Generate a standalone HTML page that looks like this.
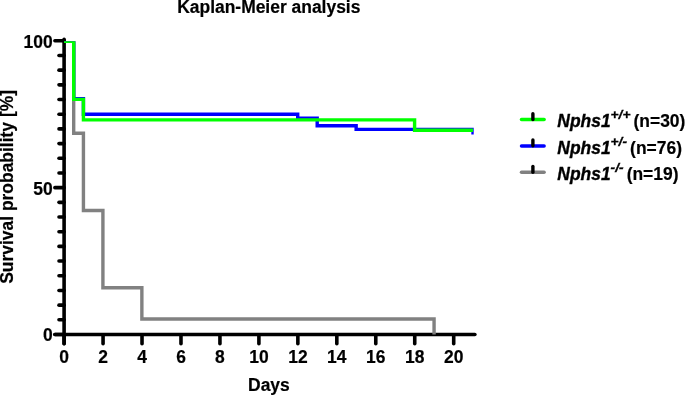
<!DOCTYPE html>
<html><head><meta charset="utf-8"><title>Kaplan-Meier analysis</title>
<style>
html,body{margin:0;padding:0;background:#fff;}
body{width:685px;height:395px;overflow:hidden;}
svg{display:block;}
text{font-family:"Liberation Sans",Arial,Helvetica,sans-serif;font-weight:bold;fill:#000;stroke:#000;stroke-width:0.2px;}
</style></head><body>
<svg width="685" height="395" viewBox="0 0 685 395">
<rect width="685" height="395" fill="#fff"/>
<text x="268.8" y="12.9" font-size="17.45" text-anchor="middle">Kaplan-Meier analysis</text>
<text transform="translate(13.3,186.9) rotate(-90)" font-size="17.45" text-anchor="middle">Survival probability [%]</text>
<text x="268.9" y="390.95" font-size="17.45" text-anchor="middle">Days</text>
<defs><clipPath id="pc"><rect x="64" y="41.15" width="409.7" height="300"/></clipPath></defs>
<g stroke="#000" stroke-width="3.6" stroke-linecap="round" fill="none">
<path d="M64.1 39.3V343.65"/>
<path d="M54.9 334.5H474.9"/>
<path d="M54.9 334.50H64.1"/>
<path d="M59 319.81H64.1"/>
<path d="M59 305.13H64.1"/>
<path d="M59 290.44H64.1"/>
<path d="M59 275.76H64.1"/>
<path d="M59 261.07H64.1"/>
<path d="M59 246.39H64.1"/>
<path d="M59 231.70H64.1"/>
<path d="M59 217.02H64.1"/>
<path d="M59 202.34H64.1"/>
<path d="M54.9 187.65H64.1"/>
<path d="M59 172.97H64.1"/>
<path d="M59 158.28H64.1"/>
<path d="M59 143.59H64.1"/>
<path d="M59 128.91H64.1"/>
<path d="M59 114.22H64.1"/>
<path d="M59 99.54H64.1"/>
<path d="M59 84.85H64.1"/>
<path d="M59 70.17H64.1"/>
<path d="M59 55.49H64.1"/>
<path d="M54.9 40.80H64.1"/>
<path d="M64.10 335.5V343.65"/>
<path d="M103.06 335.5V343.65"/>
<path d="M142.02 335.5V343.65"/>
<path d="M180.98 335.5V343.65"/>
<path d="M219.94 335.5V343.65"/>
<path d="M258.90 335.5V343.65"/>
<path d="M297.86 335.5V343.65"/>
<path d="M336.82 335.5V343.65"/>
<path d="M375.78 335.5V343.65"/>
<path d="M414.74 335.5V343.65"/>
<path d="M453.70 335.5V343.65"/>
</g>

<text x="52.6" y="48.40" font-size="17.45" text-anchor="end">100</text>

<text x="52.6" y="194.95" font-size="17.45" text-anchor="end">50</text>

<text x="52.6" y="341.35" font-size="17.45" text-anchor="end">0</text>

<text x="64.1" y="363.4" font-size="17.45" text-anchor="middle">0</text>

<text x="103.1" y="363.4" font-size="17.45" text-anchor="middle">2</text>

<text x="142.0" y="363.4" font-size="17.45" text-anchor="middle">4</text>

<text x="181.0" y="363.4" font-size="17.45" text-anchor="middle">6</text>

<text x="219.9" y="363.4" font-size="17.45" text-anchor="middle">8</text>

<text x="258.9" y="363.4" font-size="17.45" text-anchor="middle">10</text>

<text x="297.9" y="363.4" font-size="17.45" text-anchor="middle">12</text>

<text x="336.8" y="363.4" font-size="17.45" text-anchor="middle">14</text>

<text x="375.8" y="363.4" font-size="17.45" text-anchor="middle">16</text>

<text x="414.7" y="363.4" font-size="17.45" text-anchor="middle">18</text>

<text x="453.7" y="363.4" font-size="17.45" text-anchor="middle">20</text>
<g clip-path="url(#pc)"><g fill="none" stroke-width="3.4" stroke-linejoin="miter">
<path stroke="#818181" d="M63.95 40.80H73.69V133.32H83.43V210.56H102.91V287.80H141.87V318.93H434.07V334.50"/>
<path stroke="#0000ff" d="M63.95 40.80H73.69V98.70H83.43V114.30H297.71V118.10H317.19V125.80H356.15V129.40H473.03V134.5"/>
<path stroke="#00ff00" d="M63.95 41.25H73.69V99.40H83.43V119.85H414.59V130.20H473.03"/>
</g>
</g>
<path d="M521.5 119.6H544.1" stroke="#00ff00" stroke-width="3.5" stroke-linecap="round"/>
<path d="M532.9 113.7V119.5" stroke="#000" stroke-width="3.4" stroke-linecap="round"/>
<text x="557.3" y="127.2" font-size="17.45"><tspan font-style="italic" stroke-width="0.35">Nphs1</tspan><tspan font-style="italic" stroke-width="0.35" font-size="13.7" dy="-7.8">+/+</tspan><tspan dy="7.8" dx="-1.7"> (n=30)</tspan></text>
<path d="M521.5 145.9H544.1" stroke="#0000ff" stroke-width="3.5" stroke-linecap="round"/>
<path d="M532.9 140.0V145.8" stroke="#000" stroke-width="3.4" stroke-linecap="round"/>
<text x="557.3" y="153.7" font-size="17.45"><tspan font-style="italic" stroke-width="0.35">Nphs1</tspan><tspan font-style="italic" stroke-width="0.35" font-size="13.7" dy="-7.8">+/-</tspan><tspan dy="7.8" dx="-1.7"> (n=76)</tspan></text>
<path d="M521.5 172.3H544.1" stroke="#818181" stroke-width="3.5" stroke-linecap="round"/>
<path d="M532.9 166.4V172.2" stroke="#000" stroke-width="3.4" stroke-linecap="round"/>
<text x="557.3" y="180.2" font-size="17.45"><tspan font-style="italic" stroke-width="0.35">Nphs1</tspan><tspan font-style="italic" stroke-width="0.35" font-size="13.7" dy="-7.8">-/-</tspan><tspan dy="7.8" dx="-1.7"> (n=19)</tspan></text>
</svg></body></html>
